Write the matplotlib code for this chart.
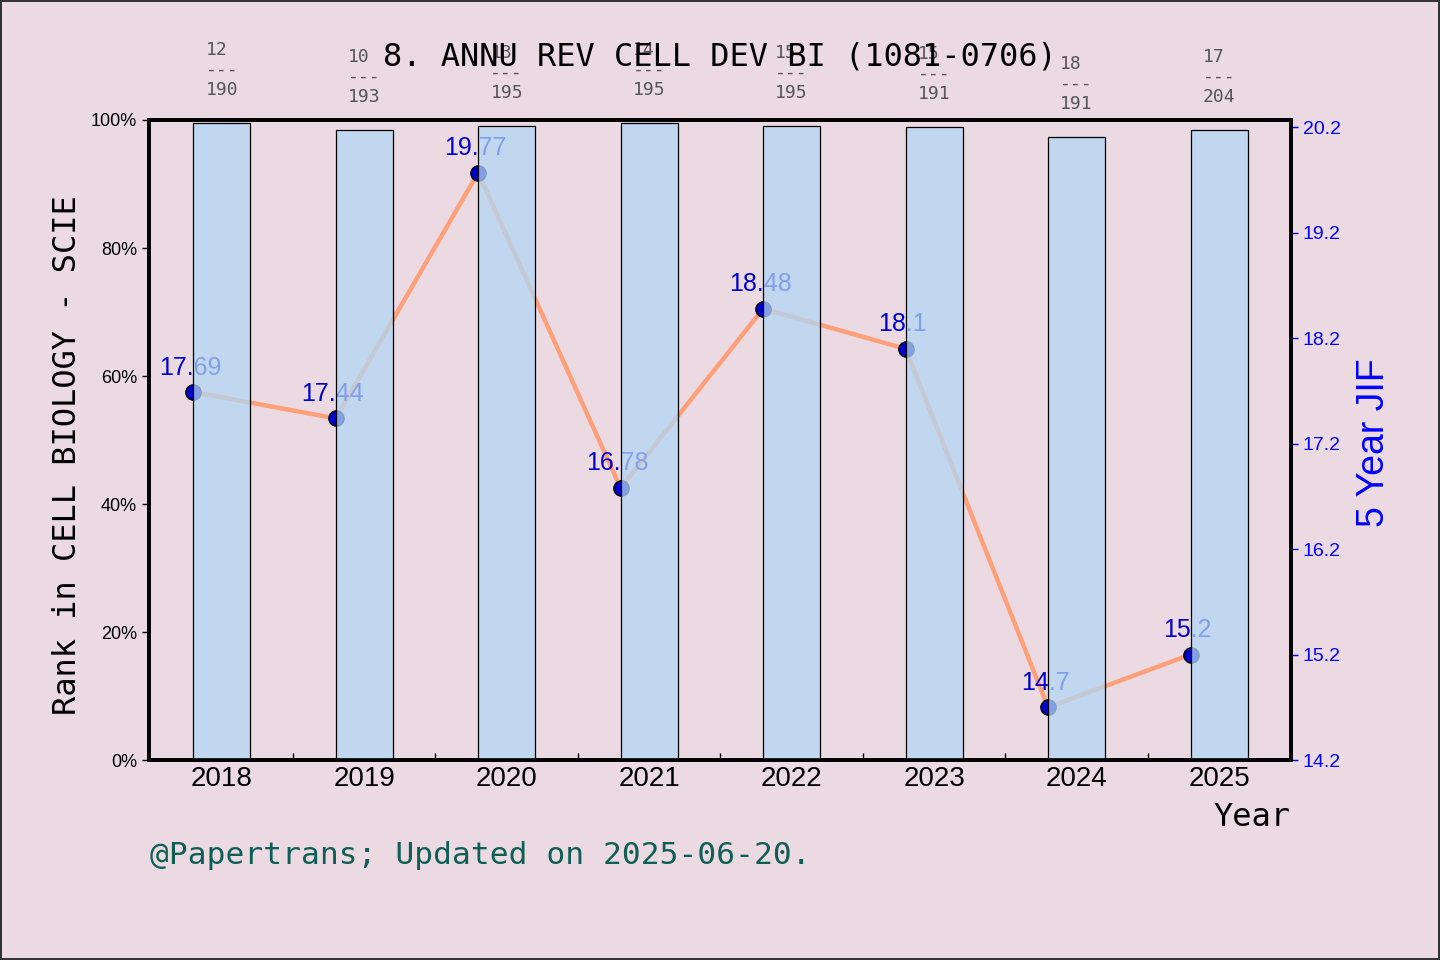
import numpy as np
import matplotlib.pyplot as plt
from matplotlib.ticker import PercentFormatter


years = ["2018", "2019", "2020", "2021", "2022", "2023", "2024", "2025"]
jif5 = [17.69, 17.44, 19.77, 16.78, 18.48, 18.1, 14.7, 15.2]
rank_pct = [99.5, 98.4, 99.1, 99.5, 99.1, 98.9, 97.3, 98.4]
rank = [12, 10, 13, 14, 15, 15, 18, 17]
total = [190, 193, 195, 195, 195, 191, 191, 204]

MONO = "DejaVu Sans Mono"
SANS = "Liberation Sans"

fig = plt.figure(figsize=(14.4, 9.6), dpi=100, facecolor="#ebdae2",
                 edgecolor="#333333", linewidth=1.5)
ax = fig.add_axes([0.1035, 0.2083, 0.793, 0.6667])
ax2 = ax.twinx()

# bars (left axis) sit above the line axis, semi-transparent
ax.set_zorder(2)
ax2.set_zorder(1)
ax.patch.set_visible(False)
ax2.patch.set_facecolor("white")

x = np.arange(len(years))
ax.bar(x, rank_pct, width=0.4, align="edge",
       facecolor=(0.698, 0.839, 0.957, 0.75), edgecolor="black", linewidth=0.9)
ax.set_ylim(0, 100)
ax.set_xlim(-0.31, 7.705)
ax.yaxis.set_major_formatter(PercentFormatter(decimals=0))
ax.set_yticks(np.arange(0, 101, 20))
ax.tick_params(axis="y", labelsize=13, length=5, width=1)
for lab in ax.get_yticklabels():
    lab.set_family(SANS)

ax.set_xticks(x + 0.2)
ax.set_xticklabels(years, fontsize=20, family=SANS)
ax.tick_params(axis="x", length=0, pad=4)
ax.set_xticks(x[:-1] + 0.7, minor=True)
ax.tick_params(axis="x", which="minor", direction="in", length=5, width=1)

for i in range(len(years)):
    ax.text(x[i] + 0.2, rank_pct[i] + 8.3, f"{rank[i]}\n---\n{total[i]}",
            ha="center", va="center", multialignment="left", fontsize=13,
            color="#555555", family=MONO, clip_on=False, linespacing=1.15)

# 5 year JIF line (right axis)
ax2.plot(x, jif5, color="#ffa07a", linewidth=3.2, zorder=2)
ax2.plot(x, jif5, "o", markersize=11, markerfacecolor="mediumblue",
         markeredgecolor="black", markeredgewidth=1, zorder=3)
for i, v in enumerate(jif5):
    ax2.annotate(f"{v:g}", (x[i], v), xytext=(-2, 9), textcoords="offset points",
                 ha="center", va="bottom", fontsize=18, color="mediumblue",
                 family=SANS)
lo, hi = min(jif5) - 0.5, max(jif5) + 0.5
ax2.set_ylim(lo, hi)
ax2.set_yticks(np.arange(lo, hi, 1.0))
ax2.yaxis.set_major_formatter(lambda v, p: f"{v:.1f}")
ax2.tick_params(axis="y", labelsize=14, colors="blue", length=5, width=1)
for lab in ax2.get_yticklabels():
    lab.set_family(SANS)

for a in (ax, ax2):
    for s in a.spines.values():
        s.set_linewidth(2.6)

fig.text(0.5, 1 - 57 / 960, "8. ANNU REV CELL DEV BI (1081-0706)",
         ha="center", va="center", fontsize=23, family=MONO)
fig.text(68 / 1440, 1 - 455 / 960, "Rank in CELL BIOLOGY - SCIE", rotation=90,
         ha="center", va="center", fontsize=23, family=MONO)
fig.text(1374 / 1440, 1 - 443 / 960, "5 Year JIF", rotation=90,
         ha="center", va="center", fontsize=27, family=SANS, color="blue")
fig.text(1290 / 1440, 1 - 817 / 960, "Year", ha="right", va="center",
         fontsize=23, family=MONO)
fig.text(150 / 1440, 1 - 855 / 960, "@Papertrans; Updated on 2025-06-20.",
         ha="left", va="center", fontsize=22.5, family=MONO, color="#0f5f56")

fig.savefig("out.png", dpi=100, facecolor=fig.get_facecolor(),
            edgecolor=fig.get_edgecolor())
